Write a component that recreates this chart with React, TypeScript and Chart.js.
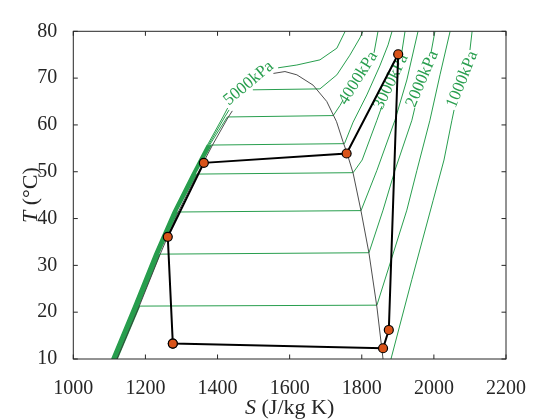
import { useEffect, useRef } from 'react';
import { Chart, registerables } from 'chart.js';

Chart.register(...registerables);

const FONT = '"Liberation Serif", "Times New Roman", serif';
const GREEN = 'rgb(40,158,78)';
const AXIS = '#262626';

// axis ticks
const sTicks = [1000, 1200, 1400, 1600, 1800, 2000, 2200];
const tTicks = [10, 20, 30, 40, 50, 60, 70, 80];

// refrigeration cycle (S in J/kg K, T in °C)
const cycleS = [1276, 1262, 1362, 1758, 1901, 1875, 1859, 1276];
const cycleT = [13.3, 36.1, 51.9, 53.9, 75.1, 16.2, 12.3, 13.3];

// saturation dome (gap where the 5000kPa label sits)
const domeS = [1121, 1183, 1241, 1291, 1344, 1386, 1430, 1441, null, 1555, 1587, 1620, 1665, 1703, 1730, 1748, 1759, 1776, 1798, 1820, 1842, 1859];
const domeT = [10, 21.3, 32.4, 41.4, 49.5, 55.7, 61.7, 63, null, 71.0, 71.4, 70.7, 68.5, 65.0, 60.7, 56.4, 54.0, 49.7, 41.6, 32.6, 21.1, 10];

// isobars (null = gap for inline label)
const p1000S = [1881, 1939, 1998, 2028, 2050, 2056, null, 2100, 2106];
const p1000T = [10, 27.0, 43.9, 52.5, 61.0, 63.2, null, 76.0, 80];

const p1500S = [1121, 1183, 1842, 1925, 1953, 1989, 2017, 2045];
const p1500T = [10, 21.3, 21.5, 41.8, 50.3, 61.0, 70.7, 80];

const p2000S = [1119, 1180, 1239, 1820, 1859, 1892, 1939, 1947, null, 1992, 2003];
const p2000T = [10, 21.3, 32.4, 32.7, 41.8, 50.3, 61.0, 63.6, null, 75.4, 80];

const p2500S = [1117, 1178, 1236, 1288, 1798, 1842, 1892, 1925, 1956];
const p2500T = [10, 21.3, 32.4, 41.4, 41.7, 50.3, 61.0, 69.6, 80];

const p3000S = [1115, 1176, 1234, 1285, 1341, 1776, 1801, 1842, 1856, null, 1909, 1920];
const p3000T = [10, 21.3, 32.4, 41.4, 49.5, 49.8, 52.5, 61.0, 64.0, null, 74.5, 80];

const p3500S = [1113, 1174, 1232, 1283, 1337, 1382, 1752, 1776, 1814, 1850, 1873, 1884];
const p3500T = [10, 21.3, 32.4, 41.4, 49.5, 55.7, 56.0, 60.6, 66.4, 72.6, 77.1, 80];

const p4000S = [1111, 1172, 1230, 1281, 1334, 1378, 1427, 1721, 1740, 1748, null, 1834, 1845];
const p4000T = [10, 21.3, 32.4, 41.4, 49.5, 55.7, 61.7, 62.0, 64.2, 65.3, null, 75.4, 80];

const p4500S = [1109, 1170, 1228, 1279, 1332, 1375, 1420, 1432, null, 1498, 1684, 1731, 1767, 1795, 1803];
const p4500T = [10, 21.3, 32.4, 41.4, 49.5, 55.7, 61.7, 63.2, null, 67.5, 67.7, 70.7, 74.9, 78.6, 80];

const p5000S = [1107, 1168, 1226, 1277, 1330, 1372, 1415, 1428, null, 1568, 1620, 1684, 1731, 1754];
const p5000T = [10, 21.3, 32.4, 41.4, 49.5, 55.7, 61.7, 63.6, null, 72.2, 72.8, 73.9, 76.4, 80];

// inline isobar labels
const labelText = ['5000kPa', '4000kPa', '3000kPa', '2000kPa', '1000kPa'];
const labelS = [1486, 1790, 1881, 1968, 2079];
const labelT = [68.9, 70.0, 69.2, 69.8, 69.7];
const labelAngle = [-40, -58, -64, -67, -68];

function pts(S: (number | null)[], T: (number | null)[]) {
  return S.map((s, i) => ({ x: s as number, y: T[i] as number }));
}

export default function App() {
  const ref = useRef<HTMLCanvasElement>(null);

  useEffect(() => {
    if (!ref.current) return;
    const isobars = [
      [p1000S, p1000T], [p1500S, p1500T], [p2000S, p2000T], [p2500S, p2500T], [p3000S, p3000T],
      [p3500S, p3500T], [p4000S, p4000T], [p4500S, p4500T], [p5000S, p5000T],
    ];

    const drawLabels = (chart: any) => {
      const ctx = chart.ctx;
      const xs = chart.scales.x;
      const ys = chart.scales.y;
      ctx.save();
      ctx.fillStyle = GREEN;
      ctx.font = `17px ${FONT}`;
      ctx.textAlign = 'center';
      ctx.textBaseline = 'middle';
      labelText.forEach((t, i) => {
        ctx.save();
        ctx.translate(xs.getPixelForValue(labelS[i]), ys.getPixelForValue(labelT[i]));
        ctx.rotate((labelAngle[i] * Math.PI) / 180);
        ctx.fillText(t, 0, 0);
        ctx.restore();
      });
      ctx.restore();
    };

    const drawRich = (ctx: any, parts: [string, boolean][], cx: number, size: number) => {
      let total = 0;
      const widths = parts.map(([txt, it]) => {
        ctx.font = `${it ? 'italic ' : ''}${size}px ${FONT}`;
        const w = ctx.measureText(txt).width;
        total += w;
        return w;
      });
      let x = cx - total / 2;
      parts.forEach(([txt, it], i) => {
        ctx.font = `${it ? 'italic ' : ''}${size}px ${FONT}`;
        ctx.fillText(txt, x, 0);
        x += widths[i];
      });
    };

    const decor = {
      id: 'decor',
      beforeDatasetDraw(chart: any, args: any) {
        if (args.index === 0) drawLabels(chart);
      },
      afterDraw(chart: any) {
        const ctx = chart.ctx;
        const { left, right, top, bottom } = chart.chartArea;
        const xs = chart.scales.x;
        const ys = chart.scales.y;
        ctx.save();
        ctx.strokeStyle = AXIS;
        ctx.lineWidth = 1;
        ctx.strokeRect(left, top, right - left, bottom - top);
        ctx.beginPath();
        const L = 4.5;
        sTicks.forEach((v) => {
          const px = xs.getPixelForValue(v);
          ctx.moveTo(px, bottom);
          ctx.lineTo(px, bottom - L);
          ctx.moveTo(px, top);
          ctx.lineTo(px, top + L);
        });
        tTicks.forEach((v) => {
          const py = ys.getPixelForValue(v);
          ctx.moveTo(left, py);
          ctx.lineTo(left + L, py);
          ctx.moveTo(right, py);
          ctx.lineTo(right - L, py);
        });
        ctx.stroke();

        ctx.fillStyle = AXIS;
        ctx.textBaseline = 'alphabetic';
        ctx.textAlign = 'left';
        // x title
        ctx.save();
        ctx.translate(0, bottom + 55);
        drawRich(ctx, [['S', true], [' (J/kg K)', false]], (left + right) / 2, 22);
        ctx.restore();
        // y title
        ctx.save();
        ctx.translate(37, (top + bottom) / 2);
        ctx.rotate(-Math.PI / 2);
        drawRich(ctx, [['T', true], [' (°C)', false]], 0, 22);
        ctx.restore();
        ctx.restore();
      },
    };

    const liquidWidth = (c: any) =>
      c.p0.parsed.x < 1450 && c.p1.parsed.x < 1450 && c.p1.parsed.y < 57 ? 1.7 : 1;

    const chart = new Chart(ref.current, {
      type: 'scatter',
      data: {
        datasets: [
          {
            label: 'cycle',
            data: pts(cycleS, cycleT),
            showLine: true,
            borderColor: '#000',
            borderWidth: 2,
            pointRadius: 4.5,
            pointBackgroundColor: '#D95319',
            pointBorderColor: '#000',
            pointBorderWidth: 1.2,
          },
          {
            label: 'dome',
            data: pts(domeS, domeT),
            showLine: true,
            borderColor: '#3a3a3a',
            borderWidth: 0.9,
            pointRadius: 0,
          },
          ...isobars.map(([S, T], i) => ({
            label: 'p' + i,
            data: pts(S, T),
            showLine: true,
            borderColor: GREEN,
            borderWidth: 1,
            segment: { borderWidth: liquidWidth },
            pointRadius: 0,
          })),
        ],
      },
      options: {
        animation: false,
        responsive: true,
        maintainAspectRatio: false,
        spanGaps: false,
        layout: { padding: { left: 0, right: 54, top: 31.3, bottom: 0 } },
        plugins: { legend: { display: false }, tooltip: { enabled: false } },
        elements: { line: { tension: 0 } },
        scales: {
          x: {
            type: 'linear',
            min: 1000,
            max: 2200,
            afterBuildTicks: (s: any) => { s.ticks = sTicks.map((v) => ({ value: v })); },
            ticks: {
              font: { family: FONT, size: 20 },
              color: AXIS,
              padding: 10,
              maxRotation: 0,
              autoSkip: false,
              callback: (v: any) => String(v),
            },
            grid: { display: false },
            border: { display: false },
            afterFit: (s: any) => { s.height = 61; },
          },
          y: {
            type: 'linear',
            min: 10,
            max: 80,
            afterBuildTicks: (s: any) => { s.ticks = tTicks.map((v) => ({ value: v })); },
            ticks: {
              font: { family: FONT, size: 20 },
              color: AXIS,
              padding: 8,
              autoSkip: false,
              callback: (v: any) => String(v),
            },
            grid: { display: false },
            border: { display: false },
            afterFit: (s: any) => { s.width = 73.3; },
          },
        },
      },
      plugins: [decor],
    } as any);
    return () => chart.destroy();
  }, []);

  return (
    <div style={{ position: 'fixed', left: 0, top: 0, width: 560, height: 420, background: '#fff' }}>
      <canvas ref={ref} />
    </div>
  );
}
